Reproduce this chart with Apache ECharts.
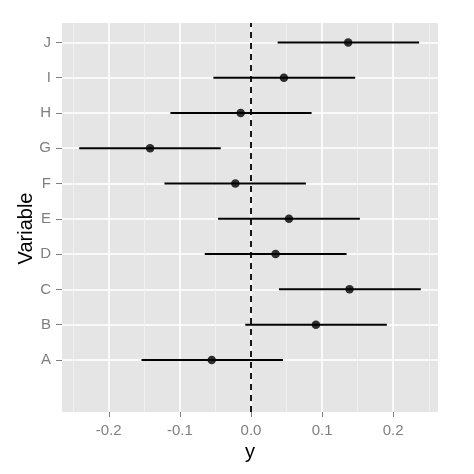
<!DOCTYPE html>
<html>
<head>
<meta charset="utf-8">
<script src="https://cdn.jsdelivr.net/npm/echarts@6/dist/echarts.min.js"></script>
<style>html,body{margin:0;padding:0;background:#fff}#c{width:474px;height:474px}</style>
</head>
<body>
<div id="c"></div>
<script>
var categories = ['A','B','C','D','E','F','G','H','I','J'];
var estimate = [-0.0552, 0.0913, 0.1386, 0.0346, 0.0534, -0.0220, -0.1419, -0.0145, 0.0463, 0.1367];
var lower    = [-0.1540, -0.0080, 0.0393, -0.0650, -0.0463, -0.1217, -0.2416, -0.1133, -0.0529, 0.0375];
var upper    = [ 0.0449, 0.1910, 0.2388, 0.1344, 0.1531, 0.0772, -0.0426, 0.0852, 0.1465, 0.2364];
var xTicks = [-0.2, -0.1, 0.0, 0.1, 0.2];
var xMinorTicks = [-0.25, -0.15, -0.05, 0.05, 0.15, 0.25];
var refLine = 0;

var yPos = categories.map(function(c, i){ return i + 1; });
var font = '"Liberation Sans", Arial, Helvetica, sans-serif';

var chart = echarts.init(document.getElementById('c'));
chart.setOption({
  animation: false,
  backgroundColor: '#ffffff',
  grid: {left: 62, right: 36, top: 23, bottom: 62, show: true, backgroundColor: '#e5e5e5', borderWidth: 0, containLabel: false},
  xAxis: {
    type: 'value', min: -0.2658, max: 0.263,
    name: 'y', nameLocation: 'middle', nameGap: 27,
    nameTextStyle: {color: '#000', fontSize: 20, fontFamily: font},
    axisLine: {show: false, onZero: false},
    axisTick: {show: true, length: 5, lineStyle: {color: '#7f7f7f', width: 1}, customValues: xTicks},
    axisLabel: {color: '#7f7f7f', fontSize: 15, fontFamily: font, margin: 11, customValues: xTicks,
      formatter: function(v){ return v.toFixed(1); }},
    splitLine: {show: true, lineStyle: {color: '#ffffff', width: 1.6}}
  },
  yAxis: {
    type: 'value', min: -0.476, max: 10.55,
    name: 'Variable', nameLocation: 'middle', nameGap: 26, nameMoveOverlap: false,
    nameTextStyle: {color: '#000', fontSize: 20, fontFamily: font, padding: [0, 22, 0, 0]},
    axisLine: {show: false, onZero: false},
    axisTick: {show: true, length: 6, lineStyle: {color: '#7f7f7f', width: 1}, customValues: yPos},
    axisLabel: {color: '#7f7f7f', fontSize: 15, fontFamily: font, margin: 11, customValues: yPos,
      formatter: function(v){ return categories[Math.round(v) - 1] || ''; }},
    splitLine: {show: true, lineStyle: {color: '#ffffff', width: 1.6}}
  },
  series: [
    {
      type: 'line', data: [], z: 1, zlevel: 0, silent: true,
      markLine: {
        silent: true, symbol: 'none', label: {show: false}, z: 1,
        lineStyle: {color: '#f2f2f2', width: 0.8, type: 'solid'},
        data: xMinorTicks.map(function(v){ return {xAxis: v}; })
      }
    },
    {
      type: 'custom', z: 3,
      encode: {x: [0, 1], y: 2},
      data: categories.map(function(c, i){ return [lower[i], upper[i], yPos[i]]; }),
      renderItem: function(params, api){
        var p1 = api.coord([api.value(0), api.value(2)]);
        var p2 = api.coord([api.value(1), api.value(2)]);
        return {type: 'line', shape: {x1: p1[0], y1: p1[1], x2: p2[0], y2: p2[1]},
          style: {stroke: '#000', lineWidth: 2}};
      }
    },
    {
      type: 'scatter', z: 4, symbol: 'circle', symbolSize: 8.5,
      itemStyle: {color: '#000'},
      data: estimate.map(function(v, i){ return [v, yPos[i]]; }),
      markLine: {
        silent: true, symbol: 'none', label: {show: false},
        lineStyle: {color: '#000', width: 1.8, type: [6, 5]},
        data: [{xAxis: refLine}]
      }
    }
  ]
});
</script>
</body>
</html>
